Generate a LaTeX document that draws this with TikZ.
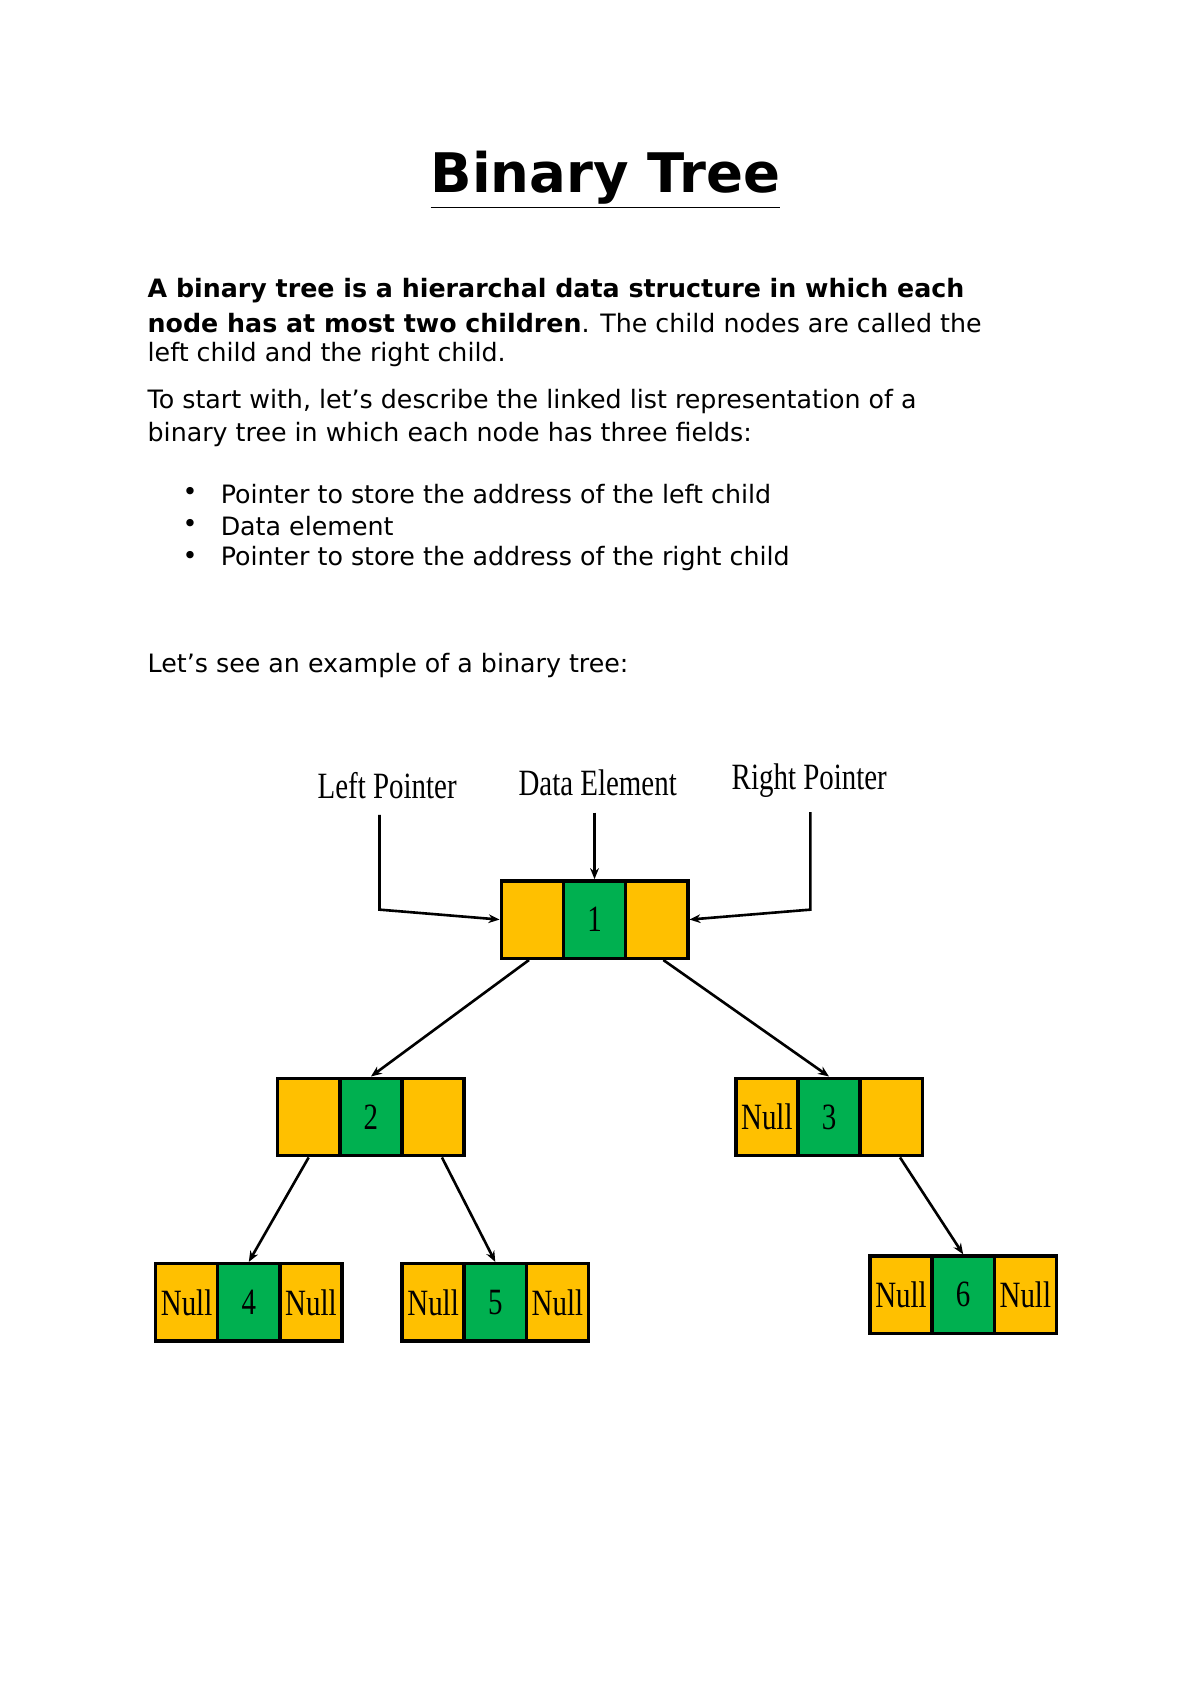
\documentclass[tikz,border=0pt]{standalone}
\usepackage{fontspec}
\setmainfont{DejaVu Sans}
\newfontfamily\tms{Liberation Serif}
\usetikzlibrary{arrows.meta}
\definecolor{org}{HTML}{FFC000}
\definecolor{grn}{HTML}{00B050}
\tikzset{
  cell/.style={draw=black,line width=1.6pt,minimum width=28.5pt,minimum height=35.5pt,inner sep=0pt,anchor=north west,font=\tms\fontsize{17}{17}\selectfont},
  oc/.style={cell,fill=org},
  gc/.style={cell,fill=grn},
  lbl/.style={font=\tms\fontsize{17}{17}\selectfont},
  body/.style={anchor=west,inner sep=0pt,font=\fontsize{11.6}{14}\selectfont},
  arr/.style={-{Stealth[length=5pt,width=4pt]},line width=1.2pt},
}
\newcommand{\nar}[1]{\scalebox{0.78}[1]{#1}}
\newcommand{\tnode}[6]{%
  \node[oc] (#1l) at (#2,#3) {\nar{#4}};
  \node[gc] (#1m) at (#2+57,#3) {\nar{#5}};
  \node[oc] (#1r) at (#2+114,#3) {\nar{#6}};
}
\begin{document}
\begin{tikzpicture}[x=0.5pt,y=-0.5pt]
\useasboundingbox (0,0) rectangle (1100,1555);
\node[inner sep=0pt] (title) at (555,165) {\fontsize{25}{25}\selectfont\bfseries\underline{Binary Tree}};
\node[body] (p1) at (135,266) {\textbf{A binary tree is a hierarchal data structure in which each}};
\node[body] (p2) at (135,296) {\textbf{node has at most two children}. The child nodes are called the};
\node[body] (p3) at (135,325) {left child and the right child.};
\node[body] (p4) at (135,368) {To start with, let’s describe the linked list representation of a};
\node[body] (p5) at (135,398) {binary tree in which each node has three fields:};
\foreach \yy/\tt [count=\i] in {453/Pointer to store the address of the left child,482/Data element,512/Pointer to store the address of the right child}{
  \node[body] (b\i) at (167,\yy) {•};
  \node[body] (bt\i) at (202,\yy) {\tt};
}
\node[body] (p6) at (135,610) {Let’s see an example of a binary tree:};

\node[lbl] (lp) at (355,720) {\nar{Left Pointer}};
\node[lbl] (de) at (548,718) {\nar{Data Element}};
\node[lbl] (rp) at (742,716) {\nar{Right Pointer}};

\tnode{a}{458}{806}{}{1}{}
\tnode{b}{253}{987}{}{2}{}
\tnode{c}{673}{987}{Null}{3}{}
\tnode{d}{141}{1157}{Null}{4}{Null}
\tnode{e}{367}{1157}{Null}{5}{Null}
\tnode{f}{796}{1150}{Null}{6}{Null}

\coordinate (lpc) at (348,834);
\coordinate (rpc) at (743,834);
\draw[arr] (lp.south -| lpc) ++(0,8) -- (lpc) -- (al.west);
\draw[arr] (am |- de.south) ++(0,8) -- (am.north);
\draw[arr] (rp.south -| rpc) ++(0,6) -- (rpc) -- (ar.east);
\draw[arr] ([xshift=13.5pt]al.south west) -- (bm.north);
\draw[arr] ([xshift=-12pt]ar.south east) -- (cm.north);
\draw[arr] ([xshift=15pt]bl.south west) -- (dm.north);
\draw[arr] ([xshift=-11pt]br.south east) -- (em.north);
\draw[arr] ([xshift=-11pt]cr.south east) -- (fm.north);
\end{tikzpicture}
\end{document}
